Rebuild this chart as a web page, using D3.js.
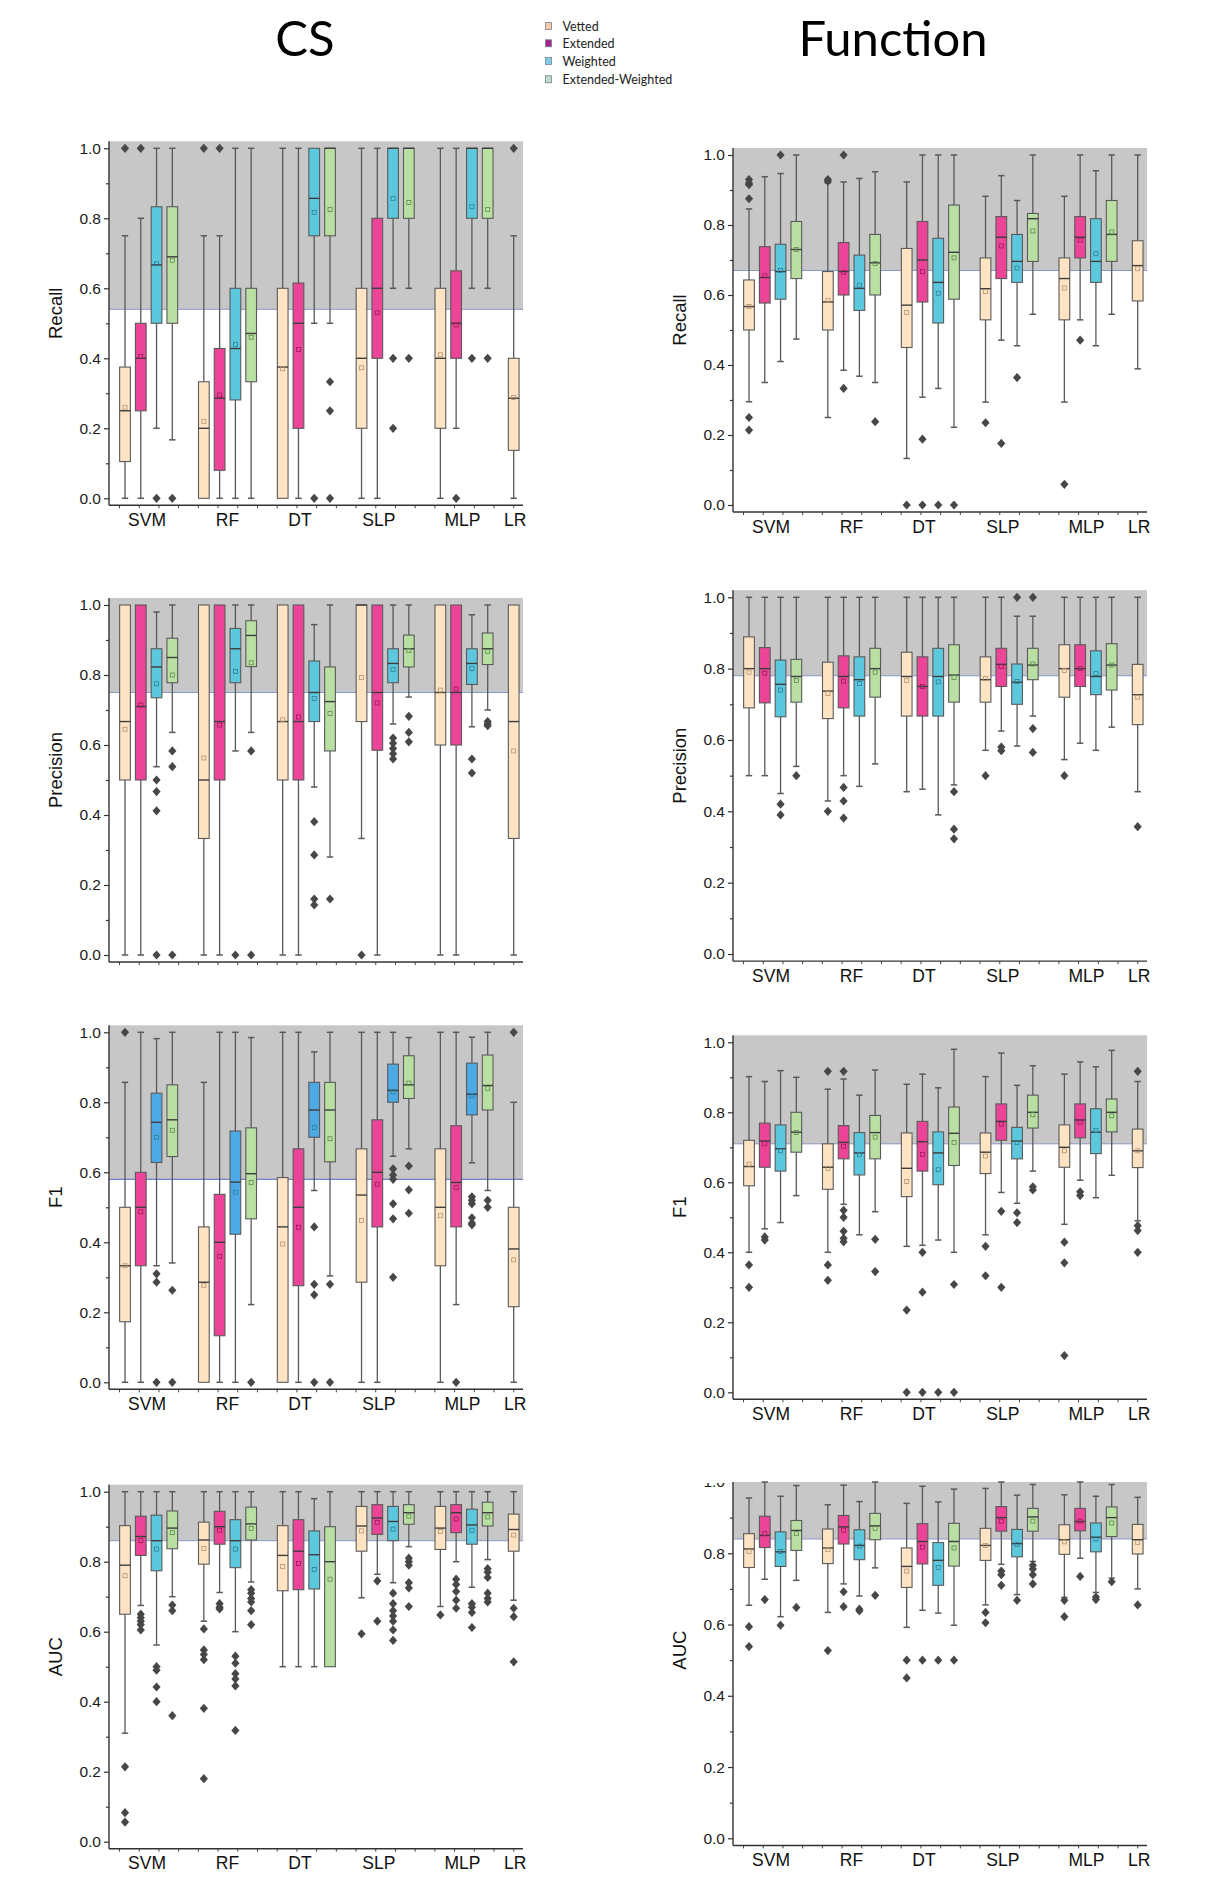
<!DOCTYPE html>
<html><head><meta charset="utf-8">
<script src="https://cdn.jsdelivr.net/npm/d3@7"></script>
<style>body{margin:0;background:#fff} svg{display:block}</style>
</head><body>
<svg id="chart" width="1232" height="1885"></svg>
<script>
// ---------- categories / ticks ----------
const seriesNames = ["Vetted", "Extended", "Weighted", "Extended-Weighted"];
const modelNames = ["SVM", "RF", "DT", "SLP", "MLP", "LR"];
// box order: SVM(V,E,W,EW), RF(..), DT(..), SLP(..), MLP(..), LR(V)
const boxSlot = [0,1,2,3, 5,6,7,8, 10,11,12,13, 15,16,17,18, 20,21,22,23, 24.65];
const boxSeries = [0,1,2,3, 0,1,2,3, 0,1,2,3, 0,1,2,3, 0,1,2,3, 0];
const labelSlot = [1.4, 6.5, 11.1, 16.1, 21.4, 24.75];
const yMajorTicks = [0, 0.2, 0.4, 0.6, 0.8, 1.0];
const yMinorTicks = [0.1, 0.3, 0.5, 0.7, 0.9];
const xMinorTicks = d3.range(0, 21).map(n => -0.38 + 1.25 * n);

// ---------- values: [min whisker, Q1, median, Q3, max whisker, mean, outliers] ----------
const csRecall = [
  [0, 0.105, 0.25, 0.375, 0.75, 0.26, [1.0]],
  [0, 0.25, 0.4, 0.5, 0.8, 0.405, [1.0]],
  [0.2, 0.5, 0.667, 0.833, 1.0, 0.67, [0]],
  [0.167, 0.5, 0.69, 0.833, 1.0, 0.68, [0]],
  [0, 0, 0.2, 0.333, 0.75, 0.22, [1.0]],
  [0, 0.08, 0.286, 0.428, 0.75, 0.295, [1.0]],
  [0, 0.281, 0.428, 0.6, 1.0, 0.44, []],
  [0, 0.333, 0.471, 0.6, 1.0, 0.46, []],
  [0, 0, 0.375, 0.6, 1.0, 0.37, []],
  [0, 0.2, 0.5, 0.615, 1.0, 0.425, []],
  [0.5, 0.75, 0.857, 1.0, 1.0, 0.817, [0]],
  [0.5, 0.75, 1.0, 1.0, 1.0, 0.825, [0.333, 0.25, 0]],
  [0, 0.2, 0.4, 0.6, 1.0, 0.373, []],
  [0, 0.4, 0.6, 0.8, 1.0, 0.53, []],
  [0.6, 0.8, 1.0, 1.0, 1.0, 0.857, [0.4, 0.2]],
  [0.6, 0.8, 1.0, 1.0, 1.0, 0.845, [0.4]],
  [0, 0.2, 0.4, 0.6, 1.0, 0.41, []],
  [0.2, 0.4, 0.5, 0.65, 1.0, 0.495, [0]],
  [0.6, 0.8, 1.0, 1.0, 1.0, 0.833, [0.4]],
  [0.6, 0.8, 1.0, 1.0, 1.0, 0.825, [0.4]],
  [0, 0.137, 0.286, 0.4, 0.75, 0.288, [1.0]]
];
const fnRecall = [
  [0.295, 0.5, 0.567, 0.643, 0.846, 0.567, [0.93, 0.92, 0.915, 0.875, 0.25, 0.214]],
  [0.35, 0.577, 0.65, 0.738, 0.938, 0.655, []],
  [0.41, 0.588, 0.667, 0.745, 0.947, 0.67, [1.0]],
  [0.474, 0.647, 0.73, 0.81, 1.0, 0.73, []],
  [0.25, 0.5, 0.58, 0.667, 0.92, 0.585, [0.93, 0.925]],
  [0.385, 0.6, 0.667, 0.75, 0.923, 0.665, [1.0, 0.333]],
  [0.368, 0.556, 0.619, 0.714, 0.933, 0.628, []],
  [0.35, 0.6, 0.692, 0.773, 0.952, 0.69, [0.238]],
  [0.133, 0.45, 0.571, 0.733, 0.923, 0.55, [0]],
  [0.308, 0.58, 0.7, 0.81, 1.0, 0.667, [0.188, 0]],
  [0.333, 0.52, 0.636, 0.762, 1.0, 0.605, [0]],
  [0.222, 0.588, 0.722, 0.857, 1.0, 0.706, [0]],
  [0.294, 0.529, 0.618, 0.706, 0.882, 0.61, [0.235]],
  [0.471, 0.647, 0.765, 0.824, 0.941, 0.74, [0.176]],
  [0.455, 0.636, 0.696, 0.773, 0.87, 0.677, [0.364]],
  [0.545, 0.696, 0.818, 0.833, 1.0, 0.783, []],
  [0.294, 0.529, 0.647, 0.706, 0.882, 0.62, [0.059]],
  [0.529, 0.706, 0.765, 0.824, 1.0, 0.757, [0.471]],
  [0.455, 0.636, 0.696, 0.818, 0.955, 0.718, []],
  [0.545, 0.696, 0.773, 0.87, 1.0, 0.78, []],
  [0.389, 0.583, 0.684, 0.755, 1.0, 0.675, []]
];
const csPrecision = [
  [0, 0.5, 0.667, 1.0, 1.0, 0.645, []],
  [0, 0.5, 0.71, 1.0, 1.0, 0.714, []],
  [0.538, 0.735, 0.823, 0.875, 0.98, 0.775, [0.5, 0.467, 0.412, 0]],
  [0.636, 0.778, 0.85, 0.905, 1.0, 0.8, [0.583, 0.538, 0]],
  [0, 0.333, 0.5, 1.0, 1.0, 0.563, []],
  [0, 0.5, 0.667, 1.0, 1.0, 0.657, []],
  [0.583, 0.778, 0.875, 0.933, 1.0, 0.81, [0]],
  [0.636, 0.824, 0.913, 0.955, 1.0, 0.835, [0.583, 0]],
  [0, 0.5, 0.667, 1.0, 1.0, 0.672, []],
  [0, 0.5, 0.667, 1.0, 1.0, 0.68, []],
  [0.48, 0.667, 0.75, 0.84, 0.944, 0.733, [0.381, 0.286, 0.16, 0.143]],
  [0.28, 0.583, 0.724, 0.823, 1.0, 0.69, [0.16]],
  [0.333, 0.667, 1.0, 1.0, 1.0, 0.793, [0]],
  [0, 0.585, 0.75, 1.0, 1.0, 0.72, []],
  [0.66, 0.778, 0.833, 0.875, 1.0, 0.816, [0.62, 0.605, 0.59, 0.575, 0.56]],
  [0.737, 0.823, 0.875, 0.914, 1.0, 0.87, [0.682, 0.636, 0.609]],
  [0, 0.6, 0.75, 1.0, 1.0, 0.757, []],
  [0, 0.6, 0.75, 1.0, 1.0, 0.76, []],
  [0.652, 0.773, 0.833, 0.875, 0.972, 0.818, [0.56, 0.52]],
  [0.7, 0.83, 0.875, 0.92, 1.0, 0.867, [0.667, 0.66, 0.655]],
  [0, 0.333, 0.667, 1.0, 1.0, 0.583, []]
];
const fnPrecision = [
  [0.5, 0.69, 0.8, 0.889, 1.0, 0.79, []],
  [0.5, 0.704, 0.8, 0.859, 1.0, 0.787, []],
  [0.45, 0.665, 0.756, 0.824, 1.0, 0.74, [0.42, 0.39]],
  [0.526, 0.706, 0.778, 0.826, 1.0, 0.767, [0.5]],
  [0.429, 0.66, 0.737, 0.818, 1.0, 0.73, [0.4]],
  [0.5, 0.69, 0.778, 0.836, 1.0, 0.765, [0.467, 0.429, 0.381]],
  [0.47, 0.667, 0.769, 0.833, 1.0, 0.758, []],
  [0.533, 0.72, 0.8, 0.857, 1.0, 0.79, []],
  [0.455, 0.667, 0.778, 0.846, 1.0, 0.767, []],
  [0.462, 0.667, 0.75, 0.833, 1.0, 0.75, []],
  [0.39, 0.667, 0.778, 0.857, 1.0, 0.763, []],
  [0.474, 0.706, 0.782, 0.867, 1.0, 0.775, [0.455, 0.35, 0.323]],
  [0.571, 0.706, 0.769, 0.833, 1.0, 0.772, [0.5]],
  [0.625, 0.75, 0.812, 0.857, 1.0, 0.806, [0.58, 0.57]],
  [0.583, 0.7, 0.762, 0.813, 0.947, 0.764, [1.0]],
  [0.667, 0.769, 0.81, 0.857, 0.947, 0.813, [1.0, 0.632, 0.565]],
  [0.545, 0.72, 0.8, 0.867, 1.0, 0.795, [0.5]],
  [0.591, 0.75, 0.8, 0.867, 1.0, 0.8, []],
  [0.571, 0.727, 0.778, 0.85, 1.0, 0.786, []],
  [0.636, 0.74, 0.81, 0.87, 1.0, 0.81, []],
  [0.455, 0.643, 0.727, 0.812, 1.0, 0.72, [0.357]]
];
const csF1 = [
  [0, 0.173, 0.333, 0.5, 0.857, 0.333, [1.0]],
  [0, 0.333, 0.5, 0.6, 1.0, 0.487, []],
  [0.333, 0.628, 0.743, 0.826, 0.982, 0.7, [0.31, 0.286, 0]],
  [0.341, 0.645, 0.75, 0.85, 1.0, 0.72, [0.263, 0]],
  [0, 0, 0.286, 0.444, 0.857, 0.277, []],
  [0, 0.133, 0.4, 0.537, 1.0, 0.36, []],
  [0, 0.423, 0.572, 0.718, 1.0, 0.543, []],
  [0.222, 0.467, 0.596, 0.727, 0.985, 0.571, [0]],
  [0, 0, 0.444, 0.585, 1.0, 0.395, []],
  [0, 0.276, 0.5, 0.667, 1.0, 0.443, []],
  [0.548, 0.7, 0.778, 0.857, 0.944, 0.728, [0.444, 0.28, 0.25, 0]],
  [0.304, 0.63, 0.778, 0.857, 1.0, 0.696, [0.28, 0]],
  [0, 0.286, 0.535, 0.667, 1.0, 0.462, []],
  [0, 0.444, 0.6, 0.75, 1.0, 0.566, []],
  [0.646, 0.8, 0.834, 0.909, 1.0, 0.83, [0.61, 0.592, 0.58, 0.51, 0.467, 0.3]],
  [0.667, 0.811, 0.85, 0.933, 0.985, 0.855, [0.618, 0.55, 0.483]],
  [0, 0.333, 0.5, 0.667, 1.0, 0.476, []],
  [0.222, 0.444, 0.571, 0.733, 1.0, 0.556, [0]],
  [0.627, 0.764, 0.823, 0.912, 0.986, 0.818, [0.53, 0.52, 0.51, 0.47, 0.455, 0.45]],
  [0.548, 0.778, 0.848, 0.935, 1.0, 0.84, [0.52, 0.5]],
  [0, 0.216, 0.381, 0.5, 0.8, 0.35, [1.0]]
];
const fnF1 = [
  [0.4, 0.59, 0.645, 0.72, 0.902, 0.652, [0.364, 0.3]],
  [0.467, 0.643, 0.718, 0.769, 0.888, 0.71, [0.444, 0.435]],
  [0.485, 0.632, 0.696, 0.764, 0.919, 0.69, []],
  [0.562, 0.686, 0.743, 0.8, 0.9, 0.742, []],
  [0.4, 0.58, 0.643, 0.71, 0.866, 0.64, [0.917, 0.364, 0.32]],
  [0.537, 0.667, 0.714, 0.762, 0.895, 0.703, [0.917, 0.52, 0.5, 0.46, 0.44, 0.43]],
  [0.45, 0.621, 0.684, 0.742, 0.849, 0.68, []],
  [0.516, 0.667, 0.742, 0.791, 0.921, 0.729, [0.437, 0.345]],
  [0.417, 0.559, 0.64, 0.741, 0.88, 0.602, [0.235, 0]],
  [0.42, 0.632, 0.716, 0.774, 0.909, 0.68, [0.4, 0.286, 0]],
  [0.435, 0.593, 0.684, 0.744, 0.87, 0.636, [0]],
  [0.4, 0.648, 0.74, 0.815, 0.98, 0.714, [0.308, 0]],
  [0.45, 0.625, 0.686, 0.741, 0.902, 0.675, [0.417, 0.333]],
  [0.571, 0.72, 0.774, 0.824, 0.969, 0.766, [0.517, 0.3]],
  [0.54, 0.667, 0.718, 0.757, 0.877, 0.714, [0.513, 0.485]],
  [0.632, 0.755, 0.8, 0.849, 0.933, 0.793, [0.587, 0.578]],
  [0.48, 0.643, 0.7, 0.764, 0.909, 0.69, [0.429, 0.37, 0.105]],
  [0.606, 0.727, 0.778, 0.824, 0.944, 0.772, [0.573, 0.562]],
  [0.556, 0.682, 0.743, 0.81, 0.93, 0.748, []],
  [0.62, 0.744, 0.8, 0.838, 0.977, 0.79, []],
  [0.49, 0.642, 0.69, 0.752, 0.888, 0.69, [0.917, 0.476, 0.462, 0.4]]
];
const csAUC = [
  [0.31, 0.65, 0.79, 0.903, 1.0, 0.76, [0.214, 0.083, 0.056]],
  [0.675, 0.818, 0.872, 0.93, 1.0, 0.86, [0.65, 0.64, 0.63, 0.62, 0.605]],
  [0.562, 0.774, 0.86, 0.933, 1.0, 0.836, [0.5, 0.49, 0.442, 0.4]],
  [0.7, 0.837, 0.896, 0.945, 1.0, 0.883, [0.676, 0.66, 0.36]],
  [0.63, 0.793, 0.862, 0.913, 1.0, 0.838, [0.608, 0.548, 0.535, 0.52, 0.381, 0.18]],
  [0.712, 0.85, 0.9, 0.944, 1.0, 0.89, [0.68, 0.67, 0.665]],
  [0.6, 0.783, 0.86, 0.92, 1.0, 0.836, [0.53, 0.51, 0.48, 0.465, 0.445, 0.318]],
  [0.742, 0.862, 0.908, 0.956, 1.0, 0.895, [0.72, 0.71, 0.695, 0.685, 0.66, 0.62]],
  [0.5, 0.717, 0.818, 0.903, 1.0, 0.786, []],
  [0.5, 0.72, 0.83, 0.92, 1.0, 0.795, []],
  [0.5, 0.722, 0.82, 0.888, 0.98, 0.778, []],
  [0.5, 0.5, 0.8, 0.9, 1.0, 0.75, []],
  [0.697, 0.83, 0.902, 0.958, 1.0, 0.888, [0.594]],
  [0.764, 0.878, 0.925, 0.963, 1.0, 0.912, [0.745, 0.63]],
  [0.74, 0.86, 0.915, 0.958, 1.0, 0.893, [0.71, 0.68, 0.66, 0.645, 0.63, 0.605, 0.575]],
  [0.843, 0.907, 0.94, 0.963, 1.0, 0.93, [0.81, 0.8, 0.79, 0.74, 0.725, 0.672]],
  [0.672, 0.835, 0.896, 0.958, 1.0, 0.886, [0.648]],
  [0.8, 0.883, 0.94, 0.963, 1.0, 0.922, [0.75, 0.735, 0.715, 0.69, 0.667]],
  [0.727, 0.85, 0.905, 0.95, 1.0, 0.89, [0.68, 0.67, 0.655, 0.612]],
  [0.806, 0.902, 0.94, 0.97, 1.0, 0.928, [0.78, 0.77, 0.755, 0.71, 0.695, 0.685]],
  [0.69, 0.83, 0.892, 0.936, 1.0, 0.876, [0.667, 0.643, 0.514]]
];
const fnAUC = [
  [0.654, 0.76, 0.812, 0.855, 0.955, 0.805, [0.594, 0.538]],
  [0.727, 0.816, 0.85, 0.904, 1.0, 0.855, [0.67]],
  [0.622, 0.763, 0.804, 0.86, 0.96, 0.805, [0.598]],
  [0.724, 0.808, 0.864, 0.892, 0.99, 0.855, [0.648]],
  [0.634, 0.771, 0.815, 0.868, 0.936, 0.81, [0.527]],
  [0.714, 0.826, 0.874, 0.906, 0.991, 0.865, [0.692, 0.65]],
  [0.68, 0.782, 0.822, 0.866, 0.945, 0.82, [0.643, 0.638]],
  [0.759, 0.838, 0.877, 0.912, 1.0, 0.87, [0.682]],
  [0.592, 0.704, 0.763, 0.815, 0.94, 0.75, [0.5, 0.45]],
  [0.64, 0.77, 0.833, 0.883, 0.988, 0.817, [0.5]],
  [0.632, 0.71, 0.78, 0.83, 0.944, 0.76, [0.5]],
  [0.598, 0.764, 0.833, 0.884, 0.98, 0.815, [0.5]],
  [0.655, 0.78, 0.822, 0.87, 0.982, 0.822, [0.634, 0.605]],
  [0.769, 0.862, 0.9, 0.931, 1.0, 0.89, [0.75, 0.74, 0.71]],
  [0.684, 0.79, 0.827, 0.867, 0.963, 0.825, [0.668]],
  [0.777, 0.862, 0.902, 0.926, 0.993, 0.89, [0.766, 0.756, 0.74, 0.714]],
  [0.676, 0.797, 0.838, 0.88, 0.964, 0.832, [0.668, 0.622]],
  [0.786, 0.863, 0.889, 0.926, 1.0, 0.89, [0.735]],
  [0.69, 0.804, 0.845, 0.885, 0.96, 0.84, [0.677, 0.67]],
  [0.73, 0.847, 0.9, 0.93, 0.993, 0.885, [0.72]],
  [0.7, 0.798, 0.838, 0.881, 0.957, 0.83, [0.655]]
];
const thresholdValues = [0.54, 0.67, 0.75, 0.78, 0.58, 0.71, 0.86, 0.84];
const metricTitles = ["Recall", "Recall", "Precision", "Precision", "F1", "F1", "AUC", "AUC"];
const columnTitles = ["CS", "Function"];

// ---------- styles ----------
const boxFill = ["#FFE4C4", "#EC4497", "#5CC8DE", "#B9DFA3"];
const meanStroke = ["#b5906c", "#9c1a5c", "#2d7f98", "#5e8c4c"];
const legendFill = ["#F7CBAA", "#A4238F", "#7FCDEB", "#BCDDC6"];
const fontSans = "'Liberation Sans', Arial, sans-serif";

const svg = d3.select("#chart");

// layout of each panel (pixel geometry)
const panels = [
  {data: csRecall,    axisX: 109, y1: 148.3,  y0: 498.3,  labels: true,  top: 1.02},
  {data: fnRecall,    axisX: 733, y1: 155,    y0: 505,    labels: true,  top: 1.02},
  {data: csPrecision, axisX: 109, y1: 605,    y0: 955,    labels: false, top: 1.02},
  {data: fnPrecision, axisX: 733, y1: 597.3,  y0: 954,    labels: true,  top: 1.02},
  {data: csF1,        axisX: 109, y1: 1032.3, y0: 1382.3, labels: true,  top: 1.02, wFill: "#4DA9E4", lineColor: "#5566c4"},
  {data: fnF1,        axisX: 733, y1: 1042.3, y0: 1392.3, labels: true,  top: 1.02},
  {data: csAUC,       axisX: 109, y1: 1491.7, y0: 1841.7, labels: true,  top: 1.02},
  {data: fnAUC,       axisX: 733, y1: 1482,   y0: 1838.3, labels: true,  top: 1.0, clipTop: true}
];

const diamond = "M0,-4.6L4.1,0L0,4.6L-4.1,0Z";

panels.forEach((p, pi) => {
  const W = 414;
  const g = svg.append("g");
  const x = d3.scaleLinear().domain([-1.015, 25.24]).range([p.axisX, p.axisX + W]);
  const y = d3.scaleLinear().domain([0, 1]).range([p.y0, p.y1]);
  const unit = x(1) - x(0);
  const bw = unit * 0.68;
  const thr = thresholdValues[pi];
  const axisBottomY = y(-0.02);

  // shaded region above threshold
  g.append("rect")
    .attr("x", p.axisX).attr("y", y(p.top))
    .attr("width", W).attr("height", y(thr) - y(p.top))
    .attr("fill", "#C7C7C7");
  g.append("line")
    .attr("x1", p.axisX).attr("x2", p.axisX + W)
    .attr("y1", y(thr)).attr("y2", y(thr))
    .attr("stroke", p.lineColor || "#8a98c6").attr("stroke-width", 1);

  // boxes
  p.data.forEach((d, i) => {
    const [mn, q1, med, q3, mx, mean, outs] = d;
    const s = boxSeries[i];
    const cx = x(boxSlot[i]);
    const fill = (s === 2 && p.wFill) ? p.wFill : boxFill[s];
    const bg = g.append("g");
    const wc = "#595959";
    if (mn < q1) {
      bg.append("line").attr("x1", cx).attr("x2", cx).attr("y1", y(mn)).attr("y2", y(q1))
        .attr("stroke", wc).attr("stroke-width", 1.3);
      bg.append("line").attr("x1", cx - 3.2).attr("x2", cx + 3.2).attr("y1", y(mn)).attr("y2", y(mn))
        .attr("stroke", wc).attr("stroke-width", 1.5);
    }
    if (mx > q3) {
      bg.append("line").attr("x1", cx).attr("x2", cx).attr("y1", y(q3)).attr("y2", y(mx))
        .attr("stroke", wc).attr("stroke-width", 1.3);
      bg.append("line").attr("x1", cx - 3.2).attr("x2", cx + 3.2).attr("y1", y(mx)).attr("y2", y(mx))
        .attr("stroke", wc).attr("stroke-width", 1.5);
    }
    bg.append("rect")
      .attr("x", cx - bw / 2).attr("y", y(q3))
      .attr("width", bw).attr("height", Math.max(0.5, y(q1) - y(q3)))
      .attr("fill", fill).attr("stroke", "#5a5a5a").attr("stroke-width", 1.1);
    bg.append("line")
      .attr("x1", cx - bw / 2).attr("x2", cx + bw / 2)
      .attr("y1", y(med)).attr("y2", y(med))
      .attr("stroke", "#3d3d3d").attr("stroke-width", 1.4);
    bg.append("rect")
      .attr("x", cx - 2).attr("y", y(mean) - 2)
      .attr("width", 4).attr("height", 4)
      .attr("fill", "none").attr("stroke", meanStroke[s]).attr("stroke-width", 0.8);
    bg.selectAll("path.out").data(outs).join("path")
      .attr("class", "out")
      .attr("d", diamond)
      .attr("transform", v => `translate(${cx},${y(v)})`)
      .attr("fill", "#474747");
  });

  // y axis
  const yAxisG = g.append("g").attr("transform", `translate(${p.axisX},0)`);
  if (p.clipTop) {
    const cid = "clip" + pi;
    svg.append("clipPath").attr("id", cid).append("rect")
      .attr("x", -60).attr("y", y(1.0) + 1).attr("width", 80).attr("height", 500);
    yAxisG.attr("clip-path", `url(#${cid})`);
  }
  yAxisG.call(d3.axisLeft(y).tickValues(yMajorTicks).tickFormat(d3.format(".1f")).tickSize(5).tickPadding(3));
  yAxisG.append("g").call(d3.axisLeft(y).tickValues(yMinorTicks).tickFormat("").tickSize(3));
  yAxisG.selectAll(".domain").remove();
  yAxisG.selectAll("line").attr("stroke", "#333").attr("stroke-width", 1.2);
  yAxisG.selectAll("text").attr("font-family", fontSans).attr("font-size", 15.5).attr("fill", "#1a1a1a");
  g.append("line")
    .attr("x1", p.axisX).attr("x2", p.axisX)
    .attr("y1", axisBottomY).attr("y2", y(p.top))
    .attr("stroke", "#333").attr("stroke-width", 1.4);

  // x axis
  const xAxisG = g.append("g").attr("transform", `translate(0,${axisBottomY})`);
  xAxisG.call(d3.axisBottom(x).tickValues(xMinorTicks).tickFormat("").tickSize(3));
  xAxisG.selectAll(".domain").remove();
  xAxisG.selectAll("line").attr("stroke", "#444").attr("stroke-width", 1);
  g.append("line")
    .attr("x1", p.axisX).attr("x2", p.axisX + W)
    .attr("y1", axisBottomY).attr("y2", axisBottomY)
    .attr("stroke", "#333").attr("stroke-width", 1.4);
  if (p.labels) {
    g.selectAll("text.xl").data(modelNames).join("text")
      .attr("class", "xl")
      .attr("x", (m, i) => x(labelSlot[i]))
      .attr("y", axisBottomY + 20.5)
      .attr("text-anchor", "middle")
      .attr("font-family", fontSans).attr("font-size", 17.5).attr("fill", "#111")
      .text(m => m);
  }

  // y title
  const tx = p.axisX - 54, ty = y(0.5) - 10;
  g.append("text")
    .attr("transform", `translate(${tx},${ty}) rotate(-90)`)
    .attr("text-anchor", "middle").attr("dominant-baseline", "central")
    .attr("font-family", fontSans).attr("font-size", 18.5).attr("fill", "#111")
    .text(metricTitles[pi]);
});

// column titles
const titleX = [305, 893];
svg.selectAll("text.ct").data(columnTitles).join("text")
  .attr("class", "ct")
  .attr("x", (t, i) => titleX[i]).attr("y", 56)
  .attr("text-anchor", "middle")
  .attr("font-family", "Lato, 'Open Sans', sans-serif").attr("font-size", 49).attr("fill", "#000")
  .text(t => t);

// legend
const legendY = [26, 43.3, 61, 79.3];
const lg = svg.append("g");
seriesNames.forEach((s, i) => {
  lg.append("rect").attr("x", 545.5).attr("y", legendY[i] - 3.5).attr("width", 6).attr("height", 7)
    .attr("fill", legendFill[i]).attr("stroke", "#7b7f94").attr("stroke-width", 0.8);
  lg.append("text").attr("x", 562.5).attr("y", legendY[i]).attr("dominant-baseline", "central")
    .attr("font-family", "Lato, 'Open Sans', sans-serif").attr("font-size", 12.5).attr("fill", "#222")
    .text(s);
});
</script>
</body></html>
